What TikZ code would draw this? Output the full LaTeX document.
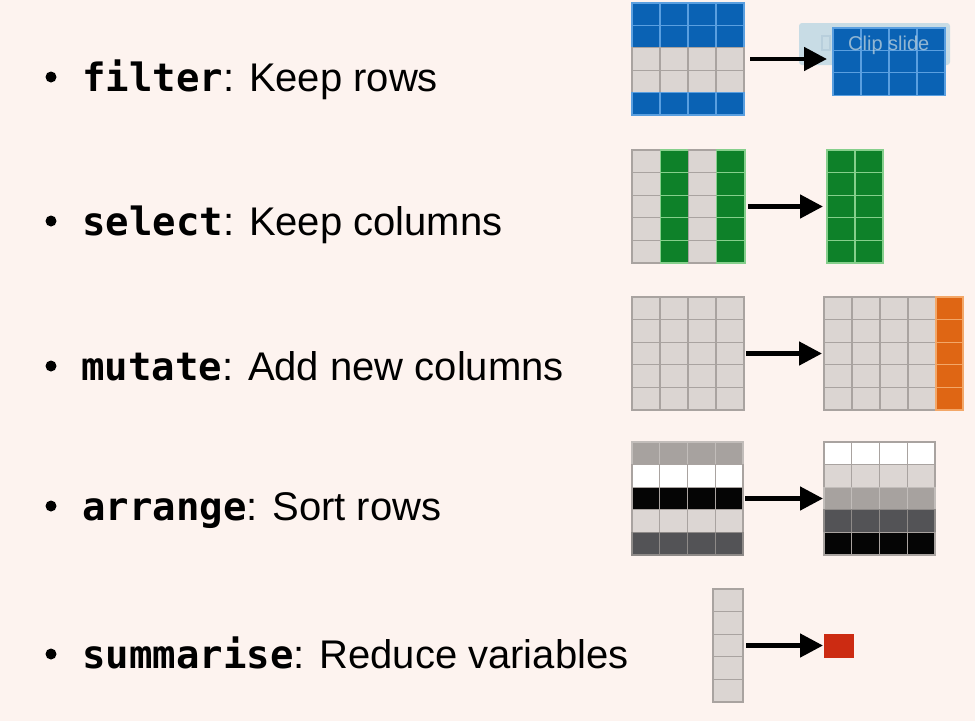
\documentclass[tikz,border=0pt]{standalone}
\usepackage{fontspec}
\setmainfont{Liberation Sans}
\newfontfamily\codefont{DejaVu Sans Mono}
\usetikzlibrary{arrows.meta}
\definecolor{bgc}{HTML}{FDF3EF}
\definecolor{tblue}{HTML}{0A62B4}
\definecolor{tblueL}{HTML}{5A9FE0}
\definecolor{tgray}{HTML}{DBD5D2}
\definecolor{tgrayL}{HTML}{A9A3A0}
\definecolor{tgreen}{HTML}{0E8129}
\definecolor{tgreenL}{HTML}{86CF8C}
\definecolor{torange}{HTML}{DF6614}
\definecolor{torangeL}{HTML}{F3A768}
\definecolor{tred}{HTML}{CC2B12}
\definecolor{tmid}{HTML}{A7A29F}
\definecolor{tmidL}{HTML}{C2BDBA}
\definecolor{twhite}{HTML}{FFFFFF}
\definecolor{tblack}{HTML}{050505}
\definecolor{tlight}{HTML}{DCD6D3}
\definecolor{tdark}{HTML}{535356}
\definecolor{tdarkL}{HTML}{8E8A88}
\definecolor{clipbg}{HTML}{C8DCE5}
\definecolor{cliptx}{HTML}{B4CCDA}
\newcommand\code[1]{{\codefont\bfseries\fontsize{39}{48}\selectfont #1}}
\tikzset{
  cell/.style={line width=1.3pt},
  frame/.style={draw=none, inner sep=0pt, outer sep=0pt},
  arr/.style={-{Triangle[length=23pt,width=23pt]}, line width=4.8pt, black},
  bullet/.style={circle, fill=black, minimum size=11pt, inner sep=0pt},
  label/.style={anchor=base west, inner sep=0pt, font=\fontsize{40}{48}\selectfont}
}
\begin{document}
\begin{tikzpicture}[x=1pt,y=-1pt]
\fill[bgc] (0,0) rectangle (975,721);
\useasboundingbox (0,0) rectangle (975,721);

% ---- text ----
\node[bullet] (b1) at (51,77) {};
\node[label] (t1) at (82,91) {\code{filter}: Keep rows};
\node[bullet] (b2) at (51,221) {};
\node[label] (t2) at (82,235) {\code{select}: Keep columns};
\node[bullet] (b3) at (51,366) {};
\node[label] (t3) at (81,380) {\code{mutate}: Add new columns};
\node[bullet] (b4) at (51,506) {};
\node[label] (t4) at (82,520) {\code{arrange}: Sort rows};
\node[bullet] (b5) at (51,654) {};
\node[label] (t5) at (82,668) {\code{summarise}: Reduce variables};

% ---- filter ----
\foreach \r/\fc/\lc in {0/tblue/tblueL,1/tblue/tblueL,2/tgray/tgrayL,3/tgray/tgrayL,4/tblue/tblueL}
  \foreach \c in {0,...,3}
    \path[cell,fill=\fc,draw=\lc] ({632+28*\c},{3+22.4*\r}) rectangle ++(28,22.4);
\node[frame,minimum width=112pt,minimum height=112pt] (fL) at (688,59) {};

\fill[clipbg,rounded corners=3pt] (799,23) rectangle (950,65);
\foreach \r in {0,1,2}
  \foreach \c in {0,...,3}
    \path[cell,fill=tblue,draw=tblueL] ({833+28*\c},{28+22.4*\r}) rectangle ++(28,22.4);
\node[frame,minimum width=112pt,minimum height=67.2pt] (fR) at (889,61.6) {};
\draw[cliptx,line width=1.2pt,opacity=0.8] (822,36) rectangle (830,50);
\node[anchor=base west,inner sep=0pt,text=cliptx,opacity=0.8,font=\fontsize{20}{24}\selectfont] (clip) at (848,50) {Clip slide};
\draw[arr,shorten <=6pt,shorten >=6pt] (fL.east) -- (fL.east -| fR.west);

% ---- select ----
\foreach \c/\fc/\lc in {0/tgray/tgrayL,1/tgreen/tgreenL,2/tgray/tgrayL,3/tgreen/tgreenL}
  \foreach \r in {0,...,4}
    \path[cell,fill=\fc,draw=\lc] ({632+28.25*\c},{150+22.6*\r}) rectangle ++(28.25,22.6);
\node[frame,minimum width=113pt,minimum height=113pt] (sL) at (688.5,206.5) {};
\foreach \c in {0,1}
  \foreach \r in {0,...,4}
    \path[cell,fill=tgreen,draw=tgreenL] ({827+28*\c},{150+22.6*\r}) rectangle ++(28,22.6);
\node[frame,minimum width=56pt,minimum height=113pt] (sR) at (855,206.5) {};
\draw[arr,shorten <=3pt,shorten >=4pt] (sL.east) -- (sL.east -| sR.west);

% ---- mutate ----
\foreach \c in {0,...,3}
  \foreach \r in {0,...,4}
    \path[cell,fill=tgray,draw=tgrayL] ({632+28*\c},{297+22.6*\r}) rectangle ++(28,22.6);
\node[frame,minimum width=112pt,minimum height=113pt] (mL) at (688,353.5) {};
\foreach \c in {0,...,3}
  \foreach \r in {0,...,4}
    \path[cell,fill=tgray,draw=tgrayL] ({824+28*\c},{297+22.6*\r}) rectangle ++(28,22.6);
\foreach \r in {0,...,4}
  \path[cell,fill=torange,draw=torangeL] (936,{297+22.6*\r}) rectangle ++(27,22.6);
\node[frame,minimum width=139pt,minimum height=113pt] (mR) at (893.5,353.5) {};
\draw[arr,shorten <=2pt,shorten >=2pt] (mL.east) -- (mL.east -| mR.west);

% ---- arrange ----
\foreach \r/\fc/\lc in {0/tmid/tmidL,1/twhite/tgrayL,2/tblack/tgrayL,3/tlight/tgrayL,4/tdark/tdarkL}
  \foreach \c in {0,...,3}
    \path[cell,fill=\fc,draw=\lc] ({632+27.75*\c},{442+22.6*\r}) rectangle ++(27.75,22.6);
\node[frame,minimum width=111pt,minimum height=113pt] (aL) at (687.5,498.5) {};
\foreach \r/\fc/\lc in {0/twhite/tgrayL,1/tlight/tgrayL,2/tmid/tmidL,3/tdark/tdarkL,4/tblack/tgrayL}
  \foreach \c in {0,...,3}
    \path[cell,fill=\fc,draw=\lc] ({824+27.75*\c},{442+22.6*\r}) rectangle ++(27.75,22.6);
\node[frame,minimum width=111pt,minimum height=113pt] (aR) at (879.5,498.5) {};
\draw[arr,shorten <=2pt,shorten >=1pt] (aL.east) -- (aL.east -| aR.west);

% ---- summarise ----
\foreach \r in {0,...,4}
  \path[cell,fill=tgray,draw=tgrayL] (713,{589+22.6*\r}) rectangle ++(30,22.6);
\node[frame,minimum width=30pt,minimum height=113pt] (uL) at (728,645.5) {};
\node[frame,fill=tred,minimum width=30pt,minimum height=24pt] (uR) at (839,645.5) {};
\draw[arr,shorten <=3pt,shorten >=1pt] (uL.east) -- (uL.east -| uR.west);
\end{tikzpicture}
\end{document}
